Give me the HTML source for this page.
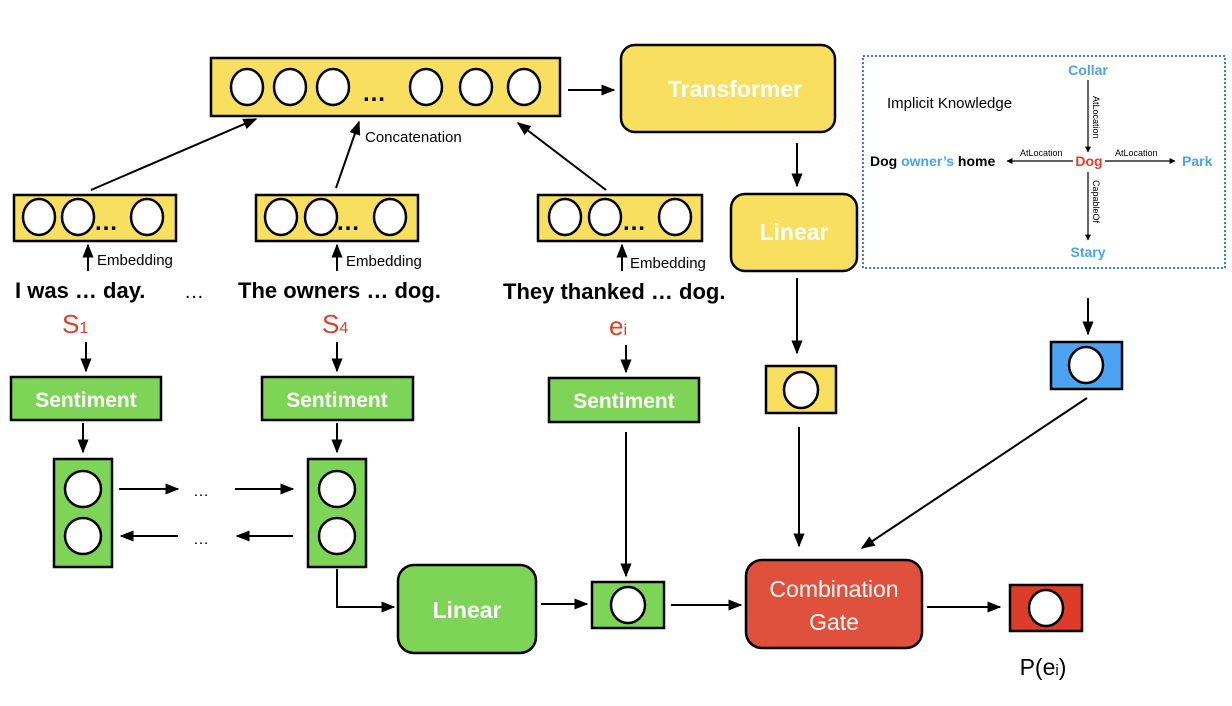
<!DOCTYPE html>
<html><head><meta charset="utf-8"><style>body{margin:0;background:#fff}svg{display:block}text{font-family:"Liberation Sans",sans-serif}</style></head><body>
<svg width="1232" height="706" viewBox="0 0 1232 706" xmlns="http://www.w3.org/2000/svg">
<defs><marker id="a" viewBox="0 0 10 10" refX="9" refY="5" markerWidth="5" markerHeight="5" orient="auto-start-reverse"><path d="M0,0L10,5L0,10z" fill="#000"/></marker>
<marker id="s" viewBox="0 0 10 10" refX="9" refY="5" markerWidth="7" markerHeight="7" orient="auto"><path d="M0,1L10,5L0,9z" fill="#000"/></marker></defs>
<g stroke="#000" stroke-width="2.5">
<rect x="211" y="58" width="349" height="58" fill="#f8df5f"/>
<g fill="#fff"><ellipse cx="247" cy="87" rx="16" ry="18"/><ellipse cx="290" cy="87" rx="16" ry="18"/><ellipse cx="333" cy="87" rx="16" ry="18"/><ellipse cx="426" cy="87" rx="16" ry="18"/><ellipse cx="476" cy="87" rx="16" ry="18"/><ellipse cx="524" cy="87" rx="16" ry="18"/></g>
<rect x="14" y="195" width="162" height="46" fill="#f8df5f"/>
<rect x="256" y="195" width="162" height="46" fill="#f8df5f"/>
<rect x="538" y="195" width="164" height="46" fill="#f8df5f"/>
<g fill="#fff"><ellipse cx="39" cy="217" rx="16" ry="18"/><ellipse cx="78" cy="217" rx="16" ry="18"/><ellipse cx="147" cy="217" rx="16" ry="18"/>
<ellipse cx="281" cy="217" rx="16" ry="18"/><ellipse cx="321" cy="217" rx="16" ry="18"/><ellipse cx="390" cy="217" rx="16" ry="18"/>
<ellipse cx="565" cy="217" rx="16" ry="18"/><ellipse cx="605" cy="217" rx="16" ry="18"/><ellipse cx="675" cy="217" rx="16" ry="18"/></g>
<rect x="621" y="45" width="214" height="87" rx="14" fill="#f8df5f"/>
<rect x="731" y="194" width="126" height="77" rx="14" fill="#f8df5f"/>
<rect x="766" y="366" width="70" height="47" fill="#f8df5f"/><ellipse cx="801" cy="390" rx="17" ry="18" fill="#fff"/>
<rect x="1051" y="342" width="71" height="47" fill="#4ca3f2"/><ellipse cx="1086" cy="365" rx="17" ry="18" fill="#fff"/>
<rect x="11" y="377" width="150" height="43" fill="#7ed456"/>
<rect x="262" y="377" width="151" height="43" fill="#7ed456"/>
<rect x="549" y="378" width="150" height="44" fill="#7ed456"/>
<rect x="54" y="459" width="58" height="108" fill="#7ed456"/><ellipse cx="83" cy="489" rx="18" ry="18" fill="#fff"/><ellipse cx="83" cy="536" rx="18" ry="18" fill="#fff"/>
<rect x="308" y="459" width="58" height="108" fill="#7ed456"/><ellipse cx="337" cy="489" rx="18" ry="18" fill="#fff"/><ellipse cx="337" cy="536" rx="18" ry="18" fill="#fff"/>
<rect x="398" y="565" width="138" height="88" rx="16" fill="#7ed456"/>
<rect x="592" y="582" width="72" height="46" fill="#7ed456"/><ellipse cx="628" cy="605" rx="17" ry="18" fill="#fff"/>
<rect x="746" y="560" width="176" height="88" rx="16" fill="#e0513d"/>
<rect x="1010" y="585" width="72" height="46" fill="#de3c2a"/><ellipse cx="1046" cy="608" rx="17" ry="18" fill="#fff"/>
</g>
<rect x="863" y="56" width="362" height="212" fill="none" stroke="#3a7fd0" stroke-width="2" stroke-dasharray="2,2"/>
<g fill="#000" font-weight="bold" font-size="24">
<text x="362" y="101">…</text><text x="94" y="230">…</text><text x="336" y="230">…</text><text x="622" y="230">…</text></g>
<g font-size="16"><text x="193" y="496">…</text><text x="193" y="544">…</text></g>
<g stroke="#000" stroke-width="2" fill="none" marker-end="url(#s)">
<line x1="91" y1="190" x2="256" y2="119"/><line x1="336" y1="188" x2="359" y2="122"/><line x1="606" y1="190" x2="518" y2="123"/>
<line x1="88" y1="271" x2="88" y2="245"/><line x1="337" y1="271" x2="337" y2="245"/><line x1="622" y1="271" x2="622" y2="245"/>
<line x1="568" y1="90" x2="614" y2="90"/><line x1="797" y1="143" x2="797" y2="186"/><line x1="797" y1="278" x2="797" y2="353"/>
<line x1="86" y1="342" x2="86" y2="371"/><line x1="337" y1="342" x2="337" y2="371"/><line x1="626" y1="345" x2="626" y2="372"/>
<line x1="83" y1="423" x2="83" y2="452"/><line x1="337" y1="423" x2="337" y2="452"/>
<line x1="119" y1="489" x2="178" y2="489"/><line x1="235" y1="489" x2="293" y2="489"/>
<line x1="178" y1="536" x2="121" y2="536"/><line x1="293" y1="536" x2="237" y2="536"/>
<polyline points="337,569 337,607 394,607"/>
<line x1="541" y1="604" x2="587" y2="604"/>
<line x1="626" y1="432" x2="626" y2="576"/><line x1="799" y1="427" x2="799" y2="546"/>
<line x1="1087" y1="398" x2="862" y2="548"/>
<line x1="671" y1="605" x2="741" y2="605"/><line x1="927" y1="607" x2="1000" y2="607"/>
<line x1="1088" y1="298" x2="1088" y2="334"/>
</g>
<g stroke="#000" stroke-width="1.2" fill="none" marker-end="url(#a)">
<line x1="1088" y1="80" x2="1088" y2="152"/><line x1="1073" y1="161" x2="1007" y2="161"/><line x1="1105" y1="161" x2="1175" y2="161"/><line x1="1088" y1="172" x2="1088" y2="240"/></g>
<g font-size="15"><text x="365" y="142">Concatenation</text><text x="97" y="265">Embedding</text><text x="346" y="266">Embedding</text><text x="630" y="268">Embedding</text></g>
<g font-size="22" font-weight="bold"><text x="15" y="298">I was … day.</text><text x="238" y="298">The owners … dog.</text><text x="503" y="299">They thanked … dog.</text></g>
<text x="184" y="298" font-size="20">…</text>
<g fill="#d9402c" font-size="26"><text x="62" y="333">S<tspan font-size="16">1</tspan></text><text x="322" y="333">S<tspan font-size="16">4</tspan></text><text x="609" y="335">e<tspan font-size="16">i</tspan></text></g>
<g fill="#fff" font-size="21" font-weight="bold" text-anchor="middle">
<text x="86" y="407">Sentiment</text><text x="337" y="407">Sentiment</text><text x="624" y="408">Sentiment</text>
<text x="735" y="97" font-size="23">Transformer</text><text x="794" y="240" font-size="23">Linear</text>
<text x="467" y="618" font-size="23">Linear</text>
<text x="834" y="597" font-size="23" font-weight="normal">Combination</text><text x="834" y="630" font-size="23" font-weight="normal">Gate</text></g>
<text x="1043" y="675" font-size="23" text-anchor="middle">P(e<tspan font-size="15">i</tspan>)</text>
<text x="887" y="108" font-size="15">Implicit Knowledge</text>
<g font-weight="bold" font-size="14">
<text x="1088" y="75" fill="#4ca3e8" text-anchor="middle">Collar</text>
<text x="870" y="166">Dog <tspan fill="#4ca3e8">owner’s</tspan> home</text>
<text x="1089" y="166" fill="#d9402c" text-anchor="middle">Dog</text>
<text x="1182" y="166" fill="#4ca3e8">Park</text>
<text x="1088" y="257" fill="#4ca3e8" text-anchor="middle">Stary</text></g>
<g font-size="9"><text x="1020" y="156">AtLocation</text><text x="1115" y="156">AtLocation</text>
<text transform="translate(1093,96) rotate(90)">AtLocation</text><text transform="translate(1093,180) rotate(90)">CapableOf</text></g>
</svg>
</body></html>
